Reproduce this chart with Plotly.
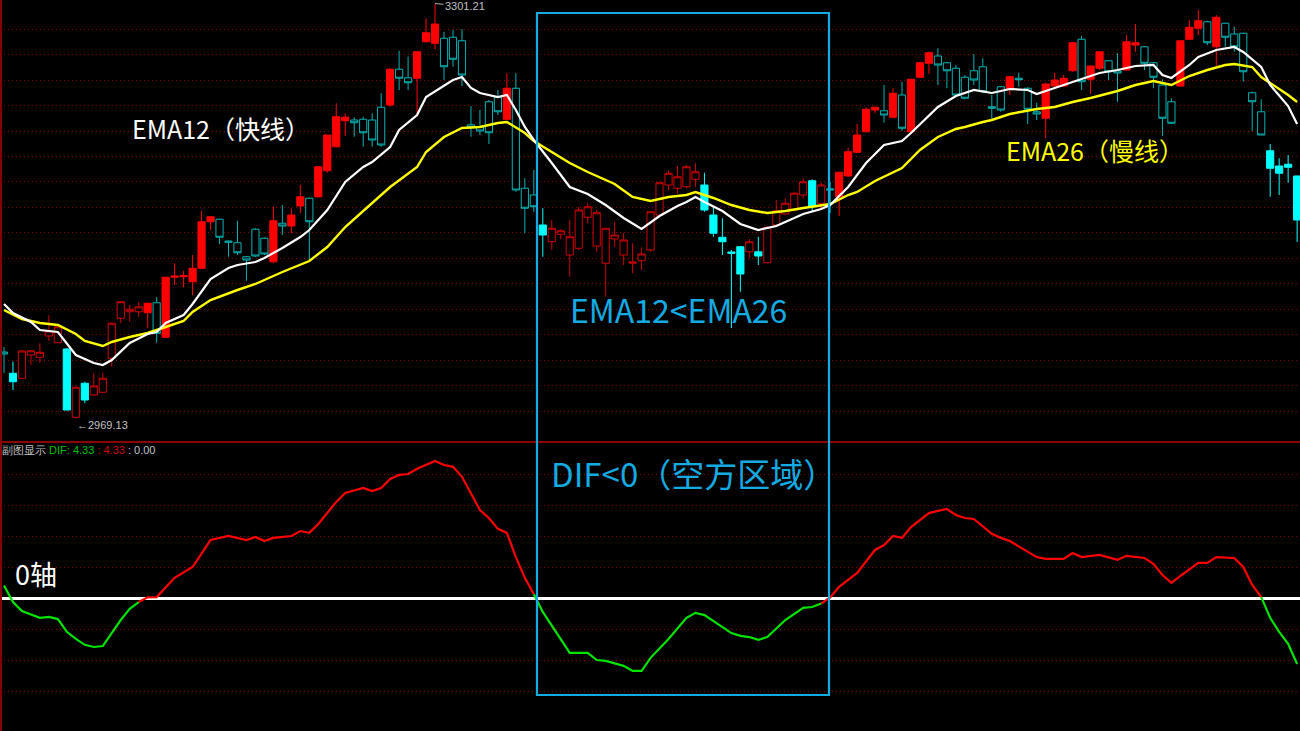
import plotly.graph_objects as go

# --- K-line data (index level) ---
opens = [
    3022.4, 3005.4, 3001.4, 3020.0, 3018.2, 3035.2, 3029.8, 3024.8, 2970.2, 2997.4,
    2988.0, 2990.2, 3017.4, 3049.4, 3054.6, 3054.6, 3053.8, 3061.8, 3034.2, 3082.2,
    3082.6, 3078.6, 3089.4, 3126.6, 3128.6, 3111.2, 3109.8, 3098.6, 3120.6, 3113.4,
    3094.6, 3125.4, 3123.2, 3139.2, 3145.4, 3146.6, 3167.4, 3186.6, 3207.4, 3208.0,
    3208.6, 3208.0, 3218.2, 3220.0, 3248.6, 3241.8, 3241.4, 3270.6, 3269.4, 3273.4,
    3274.2, 3271.4, 3204.2, 3202.6, 3222.6, 3226.6, 3208.6, 3233.4, 3153.4, 3148.0,
    3124.0, 3110.6, 3116.6, 3100.0, 3105.4, 3130.2, 3107.2, 3093.4, 3112.8, 3100.0,
    3093.4, 3095.4, 3104.0, 3132.0, 3156.0, 3153.4, 3154.6, 3160.6, 3156.0, 3132.0,
    3114.2, 3102.4, 3106.6, 3102.6, 3102.6, 3093.8, 3124.0, 3132.8, 3136.0, 3148.0,
    3159.4, 3141.4, 3153.0, 3146.6, 3163.2, 3182.2, 3198.6, 3216.0, 3215.4, 3210.2,
    3228.0, 3198.6, 3242.2, 3253.4, 3259.2, 3253.8, 3249.4, 3242.2, 3247.4, 3250.6,
    3218.6, 3234.6, 3232.6, 3241.4, 3233.4, 3214.6, 3209.4, 3235.2, 3235.2, 3247.4,
    3272.6, 3240.6, 3249.4, 3255.4, 3247.4, 3248.0, 3268.0, 3266.6, 3253.8, 3236.0,
    3222.6, 3235.2, 3272.6, 3281.4, 3286.6, 3266.6, 3285.4, 3276.8, 3277.4, 3229.8,
    3214.6, 3183.4, 3171.2, 3172.6, 3163.2,
]
highs = [
    3026.4, 3014.6, 3024.0, 3024.0, 3029.4, 3052.0, 3044.0, 3025.6, 2994.6, 2998.6,
    3005.6, 3005.8, 3045.8, 3063.2, 3060.0, 3062.6, 3061.8, 3066.2, 3082.6, 3093.4,
    3087.4, 3100.0, 3135.4, 3130.6, 3129.0, 3111.6, 3127.4, 3099.2, 3121.4, 3114.2,
    3138.6, 3140.0, 3137.4, 3156.0, 3145.8, 3170.6, 3196.0, 3221.4, 3213.4, 3210.2,
    3210.6, 3213.4, 3229.4, 3249.4, 3263.4, 3258.6, 3262.6, 3289.4, 3301.21, 3278.6,
    3280.0, 3280.6, 3219.2, 3216.0, 3224.0, 3232.0, 3245.4, 3245.4, 3161.4, 3168.0,
    3137.4, 3128.0, 3120.6, 3128.0, 3138.6, 3141.4, 3136.0, 3121.4, 3126.6, 3117.4,
    3109.4, 3106.2, 3134.6, 3157.8, 3167.4, 3171.2, 3172.0, 3173.4, 3165.8, 3138.6,
    3129.4, 3104.0, 3107.2, 3112.6, 3114.6, 3123.2, 3144.0, 3145.4, 3150.6, 3161.4,
    3160.6, 3157.8, 3158.6, 3166.6, 3185.8, 3204.8, 3218.2, 3218.6, 3236.0, 3233.4,
    3238.6, 3240.6, 3254.6, 3262.6, 3265.4, 3254.6, 3252.0, 3244.0, 3260.8, 3257.4,
    3228.0, 3235.2, 3242.6, 3245.8, 3234.2, 3221.8, 3237.4, 3245.8, 3244.0, 3270.6,
    3275.2, 3251.2, 3262.6, 3256.0, 3261.4, 3276.0, 3284.8, 3267.2, 3254.6, 3240.6,
    3225.4, 3271.4, 3288.0, 3296.0, 3287.4, 3292.0, 3285.8, 3282.6, 3277.8, 3230.6,
    3224.6, 3188.8, 3177.4, 3180.0, 3163.6,
]
lows = [
    3005.6, 2992.0, 3000.8, 3012.0, 3013.8, 3031.4, 3029.6, 2975.6, 2969.13, 2981.4,
    2987.6, 2989.4, 3010.6, 3045.4, 3046.6, 3050.6, 3041.4, 3029.8, 3033.8, 3076.0,
    3074.2, 3068.0, 3089.0, 3120.0, 3108.8, 3098.6, 3100.0, 3079.4, 3098.6, 3100.0,
    3093.4, 3116.0, 3117.4, 3133.4, 3094.6, 3146.2, 3165.8, 3186.2, 3195.2, 3194.6,
    3186.6, 3186.6, 3186.6, 3218.8, 3232.0, 3232.0, 3210.6, 3270.2, 3264.6, 3240.0,
    3250.6, 3235.2, 3194.6, 3196.0, 3188.8, 3212.0, 3208.2, 3150.6, 3117.4, 3134.6,
    3098.6, 3104.0, 3112.6, 3082.6, 3104.0, 3125.4, 3102.6, 3066.6, 3106.6, 3092.0,
    3085.4, 3088.0, 3102.6, 3130.6, 3152.0, 3149.4, 3153.4, 3154.6, 3134.6, 3114.6,
    3100.0, 3041.6, 3070.6, 3097.4, 3092.0, 3093.4, 3122.2, 3132.0, 3134.6, 3145.4,
    3134.6, 3136.0, 3133.4, 3131.2, 3162.6, 3181.8, 3198.2, 3213.4, 3205.8, 3209.8,
    3199.4, 3198.2, 3241.4, 3244.8, 3236.0, 3233.4, 3226.6, 3224.6, 3236.0, 3229.4,
    3208.0, 3214.6, 3228.0, 3234.6, 3204.8, 3208.0, 3193.4, 3234.6, 3234.6, 3246.6,
    3232.0, 3228.8, 3248.0, 3240.0, 3222.6, 3247.4, 3262.6, 3248.0, 3233.4, 3195.2,
    3204.8, 3234.8, 3272.0, 3276.0, 3268.0, 3249.4, 3266.6, 3262.6, 3238.6, 3199.4,
    3196.0, 3146.6, 3148.0, 3157.8, 3110.4,
]
closes = [
    3020.8, 2998.6, 3023.2, 3023.4, 3022.2, 3039.2, 3042.6, 2976.0, 2994.2, 2984.0,
    2995.2, 3001.4, 3045.4, 3062.6, 3056.6, 3058.6, 3061.4, 3037.4, 3082.2, 3083.2,
    3083.6, 3089.4, 3126.6, 3130.6, 3114.2, 3110.2, 3101.8, 3096.0, 3099.2, 3100.8,
    3127.4, 3123.2, 3132.0, 3146.6, 3126.6, 3170.6, 3196.0, 3210.6, 3210.2, 3205.8,
    3197.8, 3192.0, 3188.0, 3248.6, 3241.4, 3237.8, 3262.6, 3277.8, 3284.8, 3250.6,
    3256.6, 3244.0, 3202.2, 3199.2, 3197.8, 3214.6, 3233.4, 3152.0, 3137.4, 3138.6,
    3116.0, 3121.4, 3119.4, 3114.6, 3136.0, 3138.6, 3133.8, 3121.4, 3116.0, 3112.0,
    3094.4, 3100.8, 3134.6, 3157.8, 3165.4, 3162.6, 3170.6, 3166.6, 3136.0, 3117.4,
    3110.6, 3101.4, 3084.8, 3110.6, 3099.2, 3122.2, 3135.4, 3141.4, 3149.4, 3158.6,
    3138.6, 3156.0, 3152.0, 3166.2, 3182.6, 3196.0, 3216.6, 3218.2, 3212.0, 3229.4,
    3201.4, 3240.6, 3253.8, 3261.8, 3252.0, 3247.4, 3228.0, 3225.4, 3240.0, 3230.6,
    3217.4, 3216.0, 3242.6, 3240.2, 3216.6, 3212.8, 3236.8, 3240.0, 3241.4, 3269.8,
    3238.6, 3251.2, 3262.6, 3246.6, 3245.6, 3270.6, 3269.8, 3253.4, 3242.2, 3209.4,
    3205.4, 3271.4, 3282.2, 3287.4, 3269.8, 3290.2, 3274.2, 3266.6, 3246.6, 3222.6,
    3196.0, 3169.4, 3165.4, 3170.2, 3128.0,
]

# candle ranges where EMA12 sits above EMA26 (DIF > 0)
bull_spans = [(0, 0), (16, 59), (92, 140)]

# EMA lines, read at these candle positions
ema12_idx = [0, 1, 3, 4, 6, 7, 8, 10, 11, 12, 13, 14, 16, 17, 18, 20, 21, 22, 23, 25,
             26, 28, 29, 31, 33, 34, 36, 38, 40, 41, 43, 44, 46, 47, 49, 50, 51, 52, 53, 55,
             56, 57, 58, 59, 61, 63, 65, 67, 69, 71, 73, 75, 76, 77, 78, 80, 82, 84, 86, 87,
             89, 91, 92, 94, 96, 98, 100, 101, 103, 104, 106, 108, 110, 112, 114, 115, 117, 119, 121, 122,
             124, 126, 128, 129, 130, 132, 133, 135, 137, 138, 140, 141, 143, 144]
ema12 = [3060.8, 3053.6, 3046.4, 3040.0, 3038.4, 3029.6, 3020.0, 3013.6, 3012.0, 3016.0,
         3022.4, 3029.6, 3036.8, 3038.4, 3045.6, 3052.0, 3060.8, 3070.4, 3080.8, 3089.6,
         3092.0, 3094.4, 3097.6, 3105.6, 3114.4, 3120.0, 3136.0, 3158.4, 3170.4, 3174.4,
         3186.4, 3200.0, 3212.0, 3226.4, 3235.2, 3240.0, 3242.4, 3233.6, 3229.6, 3226.4,
         3228.0, 3216.0, 3202.4, 3192.0, 3173.6, 3154.4, 3148.8, 3140.0, 3129.6, 3120.8,
         3131.2, 3139.2, 3142.4, 3146.4, 3142.4, 3135.2, 3124.8, 3120.0, 3123.2, 3126.4,
         3132.8, 3136.8, 3140.0, 3154.4, 3173.6, 3188.0, 3191.2, 3197.6, 3211.2, 3218.4,
         3227.2, 3232.0, 3229.6, 3232.8, 3232.0, 3228.8, 3233.6, 3238.4, 3243.2, 3245.6,
         3248.0, 3251.2, 3252.0, 3244.0, 3241.6, 3252.0, 3258.4, 3264.0, 3266.4, 3262.4,
         3250.4, 3236.0, 3219.2, 3204.8]

ema26_idx = [0, 2, 4, 6, 8, 9, 11, 12, 14, 16, 18, 20, 21, 23, 26, 28, 31, 34, 36, 38,
             41, 43, 46, 47, 49, 51, 53, 55, 56, 58, 59, 63, 65, 68, 70, 72, 74, 76, 77, 79,
             81, 83, 85, 87, 89, 92, 94, 95, 97, 100, 102, 104, 106, 107, 109, 110, 112, 115, 117, 119,
             121, 123, 124, 126, 128, 130, 132, 134, 136, 137, 139, 140, 141, 143, 144]
ema26 = [3056.0, 3048.8, 3045.6, 3044.0, 3036.8, 3031.2, 3027.2, 3030.4, 3034.4, 3037.6,
         3042.4, 3047.2, 3054.4, 3064.0, 3072.0, 3076.8, 3086.4, 3095.2, 3106.4, 3122.4,
         3141.6, 3154.4, 3170.4, 3182.4, 3194.4, 3201.6, 3202.4, 3205.6, 3206.4, 3197.6,
         3191.2, 3173.6, 3166.4, 3156.8, 3146.4, 3143.2, 3146.4, 3148.0, 3150.4, 3145.6,
         3140.0, 3136.0, 3133.6, 3135.2, 3137.6, 3140.8, 3148.0, 3150.4, 3159.2, 3169.6,
         3184.0, 3194.4, 3200.8, 3202.4, 3206.4, 3208.0, 3212.8, 3216.8, 3218.4, 3222.4,
         3225.6, 3229.6, 3231.2, 3236.0, 3239.2, 3236.0, 3243.2, 3248.0, 3252.0, 3252.8,
         3250.4, 3242.4, 3237.6, 3228.0, 3222.4]

# DIF (EMA12 - EMA26), lower panel
dif_idx = [0, 1, 2, 4, 5, 6, 7, 8, 9, 10, 11, 12, 13, 14, 15, 16, 17, 19, 21, 23,
           25, 27, 28, 29, 30, 32, 33, 34, 35, 37, 38, 40, 41, 42, 43, 44, 45, 46, 48, 49,
           50, 51, 53, 54, 55, 56, 57, 58, 59, 60, 63, 65, 66, 67, 69, 70, 71, 72, 74, 76,
           77, 78, 81, 82, 83, 84, 85, 87, 89, 90, 91, 92, 93, 95, 97, 98, 99, 100, 101, 103,
           104, 105, 106, 107, 108, 110, 111, 112, 115, 116, 118, 119, 120, 122, 124, 125, 127, 128, 129, 130,
           131, 132, 133, 134, 135, 137, 138, 139, 140, 141, 142, 143, 144]
dif = [4.33, -1.0, -3.9, -6.1, -5.8, -6.5, -10.6, -12.9, -14.8, -15.5,
       -15.2, -11.0, -6.8, -3.2, -1.0, 0.5, 0.6, 6.8, 10.3, 19.0,
       20.3, 19.0, 20.0, 18.7, 19.7, 20.3, 21.9, 21.3, 24.2, 31.3,
       34.2, 35.8, 34.8, 35.8, 38.7, 40.0, 40.3, 42.0, 44.5, 43.2,
       42.6, 39.4, 28.7, 26.1, 22.6, 21.3, 13.5, 6.8, 1.5, -4.2,
       -17.4, -17.4, -19.7, -20.0, -21.6, -23.2, -23.2, -19.0, -12.9, -6.1,
       -4.5, -5.2, -11.0, -11.9, -12.3, -13.2, -12.3, -6.8, -2.9, -2.6,
       -1.5, 0.5, 3.9, 8.4, 15.8, 17.4, 20.3, 19.7, 23.2, 27.7,
       28.4, 29.0, 27.1, 26.1, 25.8, 21.0, 19.7, 18.7, 13.5, 12.9,
       12.9, 14.8, 13.5, 14.2, 12.6, 13.9, 13.2, 11.3, 7.7, 5.2,
       7.4, 9.4, 11.6, 11.6, 13.5, 13.2, 10.3, 4.5, 0.6, -6.1,
       -10.6, -14.5, -21.0]

W, H = 1300, 731
SPLIT = 442  # pixel row of the panel separator
RED, CYAN = "#ff0000", "#00ffff"
BLUE = "#14aae2"
GRID = "#8c0000"


def in_bull(i):
    return any(a <= i <= b for a, b in bull_spans)


# bucket candles: solid / hollow depends on whether DIF is positive
buckets = {"red_solid": [], "red_hollow": [], "cyan_solid": [], "cyan_hollow": []}
for i in range(len(closes)):
    up = closes[i] > opens[i]
    bull = in_bull(i)
    if up:
        key = "red_solid" if bull else "red_hollow"
    else:
        key = "cyan_hollow" if bull else "cyan_solid"
    buckets[key].append(i)

styles = {
    "red_solid": (RED, RED),
    "red_hollow": ("#d00000", "black"),
    "cyan_solid": (CYAN, CYAN),
    "cyan_hollow": ("#00b4b4", "black"),
}

fig = go.Figure()

for key, ids in buckets.items():
    line_c, fill_c = styles[key]
    side = dict(line=dict(color=line_c, width=1), fillcolor=fill_c)
    fig.add_trace(go.Candlestick(
        x=ids,
        open=[opens[i] for i in ids], high=[highs[i] for i in ids],
        low=[lows[i] for i in ids], close=[closes[i] for i in ids],
        increasing=side, decreasing=side, whiskerwidth=0,
        showlegend=False, hoverinfo="skip",
    ))

fig.add_trace(go.Scatter(x=ema26_idx, y=ema26, mode="lines",
                         line=dict(color="#ffff00", width=2.4), hoverinfo="skip"))
fig.add_trace(go.Scatter(x=ema12_idx, y=ema12, mode="lines",
                         line=dict(color="white", width=2.2), hoverinfo="skip"))

# DIF line: each segment takes the colour of the sign of its end point
runs = []
for k in range(1, len(dif)):
    col = "red" if dif[k] >= 0 else "green"
    if runs and runs[-1][0] == col:
        runs[-1][1].append(k)
    else:
        runs.append((col, [k - 1, k]))

for col, pts in runs:
    fig.add_trace(go.Scatter(
        x=[dif_idx[k] for k in pts], y=[dif[k] for k in pts],
        mode="lines", xaxis="x2", yaxis="y2",
        line=dict(color=RED if col == "red" else "#00e400", width=2.2),
        hoverinfo="skip", showlegend=False,
    ))

# gridline rows (equal divisions, as the trading software draws them)
up_grid = [3280.6 - 20.36 * k for k in range(16)]
low_grid = [-30, -20, -10, 10, 20, 30, 40]

split_y = 1 - SPLIT / H

fig.update_layout(
    width=W, height=H, margin=dict(l=0, r=0, t=0, b=0),
    paper_bgcolor="black", plot_bgcolor="black", showlegend=False,
    boxgap=0.2, boxgroupgap=0,
    xaxis=dict(domain=[0, 1], range=[-0.445, 144.32], showgrid=False, zeroline=False,
               showticklabels=False, ticks="", rangeslider=dict(visible=False), anchor="y"),
    xaxis2=dict(domain=[0, 1], range=[-0.445, 144.32], matches="x", showgrid=False,
                zeroline=False, showticklabels=False, ticks="", anchor="y2"),
    yaxis=dict(domain=[split_y, 1], range=[3304 - 0.8 * SPLIT, 3304], tickvals=up_grid,
               showticklabels=False, ticks="", gridcolor=GRID, griddash="1px,3px",
               gridwidth=1, zeroline=False),
    yaxis2=dict(domain=[0, split_y - 1 / H], range=[-42.6, 50.3], tickvals=low_grid,
                showticklabels=False, ticks="", gridcolor=GRID, griddash="1px,3px",
                gridwidth=1, zeroline=True, zerolinecolor="white", zerolinewidth=2.6),
)

# panel frame lines and the highlighted DIF<0 zone
fig.add_shape(type="line", xref="paper", yref="paper", x0=0, x1=1, y0=split_y, y1=split_y,
              line=dict(color="#8b0000", width=2))
fig.add_shape(type="line", xref="paper", yref="paper", x0=0.0008, x1=0.0008, y0=0, y1=1,
              line=dict(color="#8b0000", width=2))
fig.add_shape(type="rect", xref="paper", yref="paper",
              x0=537 / W, x1=829 / W, y0=1 - 695 / H, y1=1 - 13 / H,
              line=dict(color=BLUE, width=2.2), fillcolor="rgba(0,0,0,0)")

cjk = "Noto Sans CJK SC"


def label(text, px, py, color, size, font=cjk, anchor="left"):
    fig.add_annotation(text=text, xref="paper", yref="paper", x=px / W, y=1 - py / H,
                       xanchor=anchor, yanchor="middle", showarrow=False,
                       font=dict(family=font, size=size, color=color))


label("EMA12（快线）", 130, 128, "white", 25)
label("EMA26（慢线）", 1004, 150, "#ffff00", 25)
label("EMA12&lt;EMA26", 568, 309, BLUE, 32)
label("DIF&lt;0（空方区域）", 549, 473, BLUE, 33)
label("0轴", 13, 573, "white", 27)
label('副图显示 <span style="color:#00c000">DIF: 4.33</span> '
      '<span style="color:#d00000">: 4.33</span> : 0.00',
      0, 450, "#c0c0c0", 11, font="Liberation Sans")

# high / low markers
fig.add_annotation(x=48, y=3301.21, text="3301.21", showarrow=True, arrowhead=0,
                   arrowwidth=1, arrowcolor="#b0b0b0", ax=30, ay=3, standoff=0,
                   font=dict(family="Liberation Sans", size=11, color="#c0c0c0"))
fig.add_annotation(x=8, y=2969.13, text="←2969.13", showarrow=False, xanchor="left",
                   yanchor="middle", yshift=-6, xshift=-1,
                   font=dict(family="Liberation Sans", size=11, color="#c0c0c0"))

fig.write_html("out.html", config={"displayModeBar": False},
               post_script="document.body.style.margin='0';")
